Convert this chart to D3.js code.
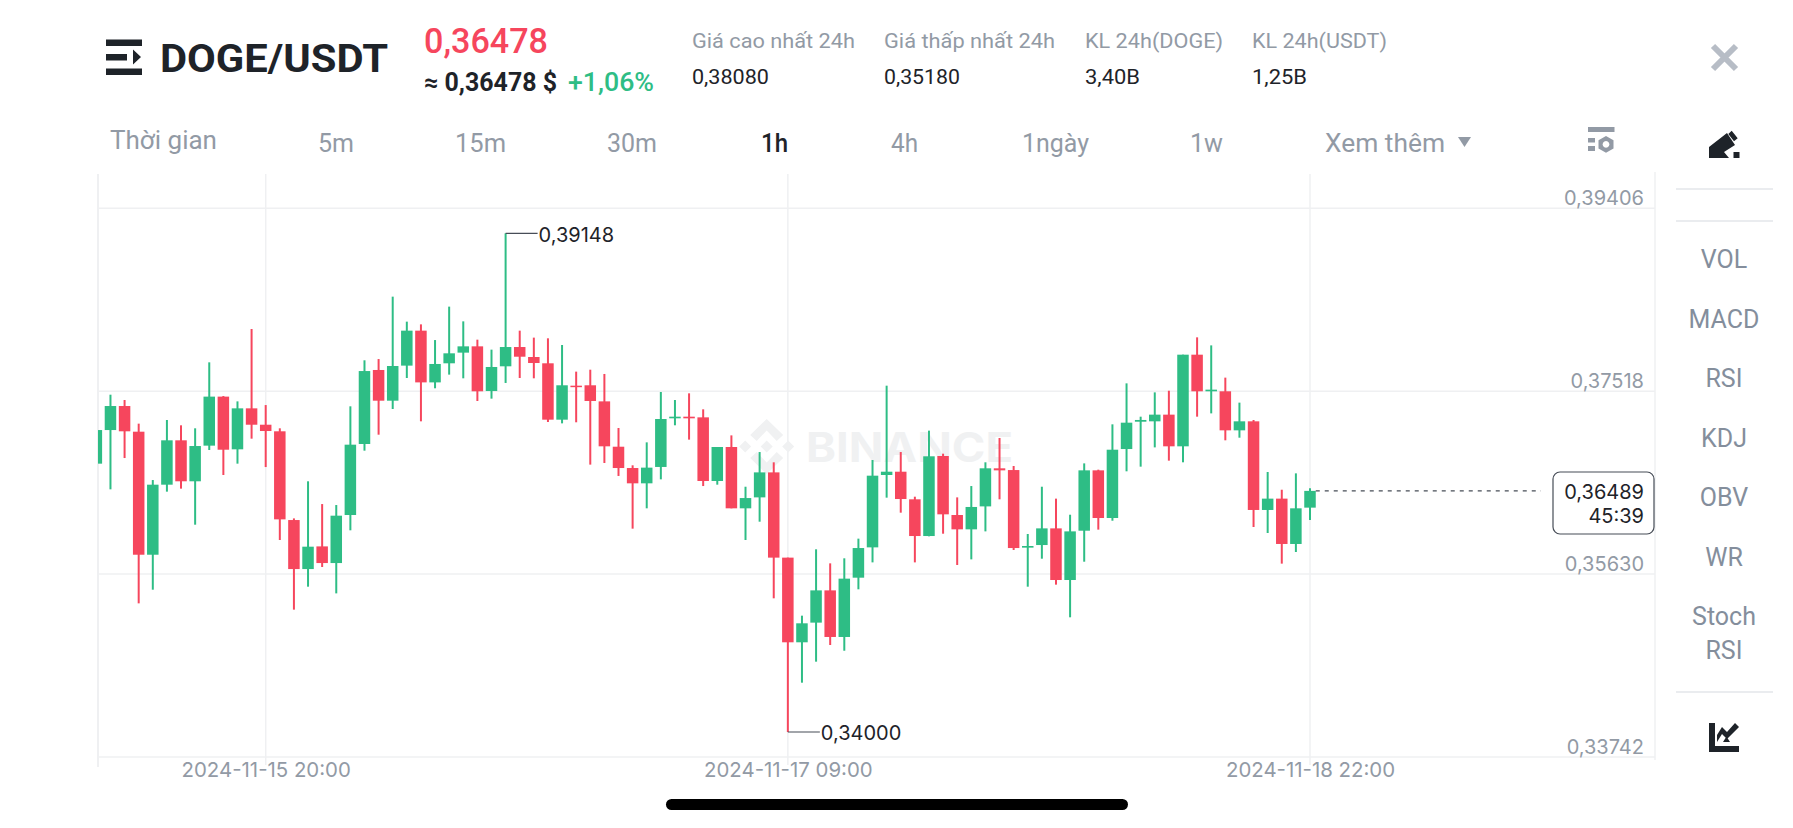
<!DOCTYPE html>
<html>
<head>
<meta charset="utf-8">
<title>DOGE/USDT</title>
<script src="https://cdn.jsdelivr.net/npm/d3@7"></script>
<style>
  html, body { margin: 0; padding: 0; background: #fff; }
  svg { display: block; }
</style>
</head>
<body>
<div id="chart"></div>
<script>
// 1h candles, first one is 2024-11-15 08:00 UTC+7 as shown on screen
const startTime = "2024-11-15 08:00";
const opens = [0.36770,0.37117,0.37365,0.37100,0.35830,0.36553,0.37011,0.36588,0.36956,0.37462,0.36918,0.37341,0.37172,0.37104,0.36188,0.35682,0.35916,0.35744,0.36240,0.36973,0.37737,0.37420,0.37782,0.38143,0.37609,0.37806,0.37916,0.37981,0.37520,0.37775,0.37974,0.37871,0.37806,0.37224,0.37575,0.37579,0.37413,0.36945,0.36725,0.36567,0.36736,0.37238,0.37255,0.37248,0.36591,0.36942,0.36309,0.36422,0.36680,0.35800,0.34926,0.35129,0.35462,0.34981,0.35593,0.35906,0.36653,0.36687,0.36402,0.36023,0.36849,0.36240,0.36092,0.36329,0.36722,0.36704,0.35903,0.35930,0.36102,0.35569,0.36078,0.36701,0.36209,0.36921,0.37203,0.37207,0.37276,0.36949,0.37895,0.37517,0.37517,0.37114,0.37207,0.36292,0.36409,0.35941,0.36316];
const highs = [0.37117,0.37482,0.37427,0.37183,0.36601,0.37221,0.37166,0.37135,0.37816,0.37468,0.37413,0.38160,0.37375,0.37135,0.36205,0.36588,0.36353,0.36343,0.37362,0.37837,0.37850,0.38494,0.38236,0.38208,0.38046,0.38391,0.38239,0.38050,0.37947,0.39148,0.38143,0.38071,0.38064,0.37995,0.37720,0.37740,0.37696,0.37138,0.36753,0.36990,0.37510,0.37427,0.37496,0.37331,0.36942,0.37062,0.36532,0.36890,0.36784,0.35800,0.35201,0.35886,0.35741,0.35793,0.35996,0.36808,0.37575,0.36890,0.36429,0.37111,0.36873,0.36422,0.36539,0.36784,0.37035,0.36746,0.36044,0.36532,0.36409,0.36243,0.36773,0.36708,0.37176,0.37599,0.37255,0.37506,0.37523,0.37895,0.38074,0.37991,0.37658,0.37400,0.37221,0.36684,0.36501,0.36670,0.36515];
const lows = [0.36770,0.36505,0.36828,0.35328,0.35469,0.36481,0.36512,0.36140,0.36911,0.36653,0.36770,0.37028,0.36735,0.35982,0.35263,0.35500,0.35703,0.35431,0.36082,0.36904,0.37069,0.37334,0.37654,0.37207,0.37548,0.37689,0.37651,0.37417,0.37441,0.37603,0.37654,0.37651,0.37200,0.37186,0.37197,0.36760,0.36777,0.36643,0.36099,0.36309,0.36608,0.37166,0.37018,0.36539,0.36553,0.36309,0.35982,0.36171,0.35380,0.34000,0.34509,0.34726,0.34898,0.34839,0.35473,0.35751,0.36419,0.36264,0.35751,0.36020,0.36047,0.35724,0.35782,0.36071,0.36402,0.35879,0.35500,0.35789,0.35521,0.35184,0.35758,0.36089,0.36181,0.36691,0.36739,0.36938,0.36801,0.36784,0.37255,0.37289,0.37011,0.37038,0.36116,0.36054,0.35738,0.35858,0.36188];
const closes = [0.37117,0.37365,0.37104,0.35830,0.36553,0.37011,0.36588,0.36952,0.37462,0.36914,0.37341,0.37172,0.37107,0.36195,0.35682,0.35913,0.35744,0.36233,0.36966,0.37726,0.37420,0.37778,0.38143,0.37609,0.37799,0.37909,0.37981,0.37517,0.37768,0.37974,0.37874,0.37809,0.37224,0.37579,0.37561,0.37417,0.36949,0.36725,0.36567,0.36729,0.37231,0.37255,0.37238,0.36591,0.36942,0.36309,0.36415,0.36680,0.35800,0.34926,0.35122,0.35462,0.34981,0.35583,0.35899,0.36646,0.36687,0.36405,0.36023,0.36846,0.36247,0.36092,0.36323,0.36722,0.36701,0.35899,0.35920,0.36102,0.35569,0.36071,0.36701,0.36209,0.36914,0.37193,0.37221,0.37276,0.36949,0.37895,0.37517,0.37534,0.37114,0.37207,0.36292,0.36409,0.35941,0.36309,0.36489];

const priceTicks = [0.39406, 0.37518, 0.35630, 0.33742];
const timeTicks = ["2024-11-15 20:00", "2024-11-17 09:00", "2024-11-18 22:00"];
const maxPrice = 0.39148, minPrice = 0.34000;
const lastPrice = 0.36489, countdown = "45:39";

const intervals = ["5m", "15m", "30m", "1h", "4h", "1ngày", "1w"];
const intervalX = [318, 455, 607, 761, 891, 1022, 1190];
const intervalW = [36, 51, 50, 27, 27, 67, 33];
const indicators = ["VOL", "MACD", "RSI", "KDJ", "OBV", "WR", "Stoch", "RSI"];
const indicatorY = [268, 328, 387, 447, 506, 566, 625, 659];

const GREEN = "#2ebd85", RED = "#f6465d", INK = "#1e2329", GREY = "#929aa5", GRID = "#eff0f2";
const PLEX = "Roboto, sans-serif", NUM = "Inter, sans-serif";

const svg = d3.select("#chart").append("svg").attr("width", 1793).attr("height", 828);

function txt(x, y, str, size, color, weight, w, anchor) {
  const t = svg.append("text").attr("x", x).attr("y", y).text(str)
    .attr("font-family", PLEX).attr("font-size", size).attr("fill", color)
    .attr("font-weight", weight || 400).attr("text-anchor", anchor || "start");
  if (w) t.attr("textLength", w).attr("lengthAdjust", "spacingAndGlyphs");
  return t;
}

// scales
const parseT = d3.utcParse("%Y-%m-%d %H:%M");
const fmtT = d3.utcFormat("%Y-%m-%d %H:%M");
const tickDates = timeTicks.map(parseT);
const x = d3.scaleUtc().domain([tickDates[0], tickDates[2]]).range([265.7, 1310]);
const y = d3.scaleLinear().domain([priceTicks[3], priceTicks[0]]).range([757, 208.3]);
const t0 = parseT(startTime);
const candles = opens.map((o, i) => ({
  time: d3.utcHour.offset(t0, i), open: o, high: highs[i], low: lows[i], close: closes[i]
}));

// grid
svg.append("g").selectAll("line").data(priceTicks).join("line")
  .attr("x1", 98).attr("x2", 1655).attr("y1", d => y(d)).attr("y2", d => y(d))
  .attr("stroke", GRID).attr("stroke-width", 1.5);
svg.append("g").selectAll("line").data(tickDates).join("line")
  .attr("x1", d => x(d)).attr("x2", d => x(d)).attr("y1", 174).attr("y2", 765)
  .attr("stroke", GRID).attr("stroke-width", 1.5);
svg.append("line").attr("x1", 98).attr("x2", 98).attr("y1", 174).attr("y2", 767).attr("stroke", GRID).attr("stroke-width", 2);
svg.append("line").attr("x1", 1655).attr("x2", 1655).attr("y1", 172).attr("y2", 760).attr("stroke", GRID).attr("stroke-width", 1.5);

// watermark
const wm = svg.append("g").attr("fill", "#f0f1f2").attr("transform", "translate(766.7,446.5)");
wm.append("path").attr("d", "M0,-27.5L16.5,-11.5L10,-5.5L0,-16L-10,-5.5L-16.5,-11.5Z");
wm.append("path").attr("d", "M0,27.5L16.5,11.5L10,5.5L0,16L-10,5.5L-16.5,11.5Z");
[[0, 0], [-21.5, 0], [21.5, 0]].forEach(d => {
  wm.append("path").attr("d", `M${d[0] - 6},0L${d[0]},-6L${d[0] + 6},0L${d[0]},6Z`);
});
svg.append("text").attr("x", 806).attr("y", 462).text("BINANCE")
  .attr("font-family", NUM).attr("font-size", 41).attr("font-weight", 700).attr("fill", "#f0f1f2")
  .attr("textLength", 207).attr("lengthAdjust", "spacingAndGlyphs");

// candles
svg.append("clipPath").attr("id", "plot").append("rect").attr("x", 98).attr("y", 170).attr("width", 1557).attr("height", 590);
const g = svg.append("g").attr("clip-path", "url(#plot)");
const bodyW = 11.5;
const col = d => d.close >= d.open ? GREEN : RED;
g.selectAll("line.wick").data(candles).join("line").attr("class", "wick")
  .attr("x1", d => x(d.time)).attr("x2", d => x(d.time))
  .attr("y1", d => y(d.high)).attr("y2", d => y(d.low))
  .attr("stroke", col).attr("stroke-width", 2);
g.selectAll("rect.body").data(candles).join("rect").attr("class", "body")
  .attr("x", d => x(d.time) - bodyW / 2).attr("width", bodyW)
  .attr("y", d => y(Math.max(d.open, d.close)))
  .attr("height", d => Math.max(1.5, Math.abs(y(d.open) - y(d.close))))
  .attr("fill", col);

// axes
const yAxis = svg.append("g").attr("transform", "translate(1644,0)")
  .call(d3.axisLeft(y).tickValues(priceTicks).tickSize(0).tickPadding(0)
    .tickFormat(d => d.toFixed(5).replace(".", ",")));
yAxis.select(".domain").remove();
yAxis.selectAll("text").attr("dy", "-4px").attr("font-family", NUM).attr("font-size", 20).attr("fill", GREY);
const xAxis = svg.append("g").attr("transform", "translate(0,757)")
  .call(d3.axisBottom(x).tickValues(tickDates).tickSize(0).tickPadding(0).tickFormat(fmtT));
xAxis.select(".domain").remove();
xAxis.selectAll("text").attr("y", 20).attr("dy", 0).attr("font-family", NUM).attr("font-size", 20.4).attr("fill", GREY);

// max / min callouts
const maxC = candles[highs.indexOf(maxPrice)], minC = candles[lows.indexOf(minPrice)];
[[maxC, maxPrice], [minC, minPrice]].forEach(([c, p]) => {
  svg.append("line").attr("x1", x(c.time)).attr("x2", x(c.time) + 32).attr("y1", y(p)).attr("y2", y(p))
    .attr("stroke", "#474d57").attr("stroke-width", 1.2);
  svg.append("text").attr("x", x(c.time) + 33).attr("y", y(p) + 8.3).text(p.toFixed(5).replace(".", ","))
    .attr("font-family", NUM).attr("font-size", 20).attr("fill", INK);
});

// last price line + box
const lastX = x(candles[candles.length - 1].time) + bodyW / 2;
svg.append("line").attr("x1", lastX).attr("x2", 1541).attr("y1", y(lastPrice)).attr("y2", y(lastPrice))
  .attr("stroke", "#474d57").attr("stroke-width", 1.2).attr("stroke-dasharray", "4,5");
svg.append("rect").attr("x", 1553).attr("y", 472).attr("width", 101).attr("height", 62).attr("rx", 7)
  .attr("fill", "#fff").attr("stroke", "#474d57").attr("stroke-width", 1.2);
[[499, lastPrice.toFixed(5).replace(".", ",")], [523, countdown]].forEach(d => {
  svg.append("text").attr("x", 1644).attr("y", d[0]).text(d[1]).attr("text-anchor", "end")
    .attr("font-family", NUM).attr("font-size", 20).attr("fill", INK);
});

// header
svg.append("path").attr("fill", INK).attr("d", "M106,39.5h36v6.5h-36zM106,68.5h36v6.5h-36zM106,54h21v6.5h-21zM133,49.5l8,7.5l-8,7.5z");
txt(160, 72, "DOGE/USDT", 38, INK, 700, 228);
txt(424, 53, "0,36478", 35, RED, 500, 124);
txt(424, 91, "≈ 0,36478 $", 25, INK, 700, 133);
txt(568, 91, "+1,06%", 25, GREEN, 500, 86);
[["Giá cao nhất 24h", "0,38080", 692, 163, 77], ["Giá thấp nhất 24h", "0,35180", 884, 171, 76],
 ["KL 24h(DOGE)", "3,40B", 1085, 138, 55], ["KL 24h(USDT)", "1,25B", 1252, 135, 55]].forEach(d => {
  txt(d[2], 48, d[0], 21, GREY, 400, d[3]);
  txt(d[2], 84, d[1], 21, INK, 400, d[4]);
});
svg.append("path").attr("d", "M1713,46L1736,69M1736,46L1713,69").attr("stroke", "#b7bdc6").attr("stroke-width", 6).attr("fill", "none");

// interval row
txt(110, 149, "Thời gian", 25, GREY, 400, 107);
intervals.forEach((s, i) => txt(intervalX[i], 152, s, 25, s === "1h" ? INK : GREY, s === "1h" ? 500 : 400, intervalW[i]));
txt(1325, 152, "Xem thêm", 25, GREY, 400, 120);
svg.append("path").attr("fill", GREY).attr("d", "M1458,137h13l-6.5,10z");
svg.append("path").attr("fill", GREY).attr("d", "M1588,127h26.5v5h-26.5zM1588,138h7v4.5h-7zM1588,146h7v5h-7z");
svg.append("path").attr("fill", GREY).attr("fill-rule", "evenodd")
  .attr("d", "M1606,136l7.5,4.2v8.4l-7.5,4.2l-7.5,-4.2v-8.4zM1606,141a3.4,3.4 0 1,0 0.01,0z");
svg.append("path").attr("fill", INK).attr("d", "M1709,158V147L1727,133L1735,145L1724,152L1729,158Z");
svg.append("path").attr("fill", INK).attr("d", "M1728.3,134L1731.7,130.7L1737.7,138.3L1734,141.3ZM1733.5,152h6v6h-6z");

// side panel
[189, 221, 692].forEach(v => svg.append("line").attr("x1", 1676).attr("x2", 1773).attr("y1", v).attr("y2", v)
  .attr("stroke", "#eaecef").attr("stroke-width", 2));
indicators.forEach((s, i) => txt(1724, indicatorY[i], s, 25, "#848e9c", 400, null, "middle"));
svg.append("path").attr("fill", INK).attr("d", "M1709,723h6v23h24v6h-30z");
svg.append("path").attr("fill", INK).attr("d", "M1717,735L1722,727L1727,732L1735,723L1739,727L1727,739L1722,734L1717,742ZM1723,742l3.5,-5.5l3.5,5.5z");

// home indicator
svg.append("rect").attr("x", 666).attr("y", 799).attr("width", 462).attr("height", 11).attr("rx", 5.5).attr("fill", "#000");
</script>
</body>
</html>
